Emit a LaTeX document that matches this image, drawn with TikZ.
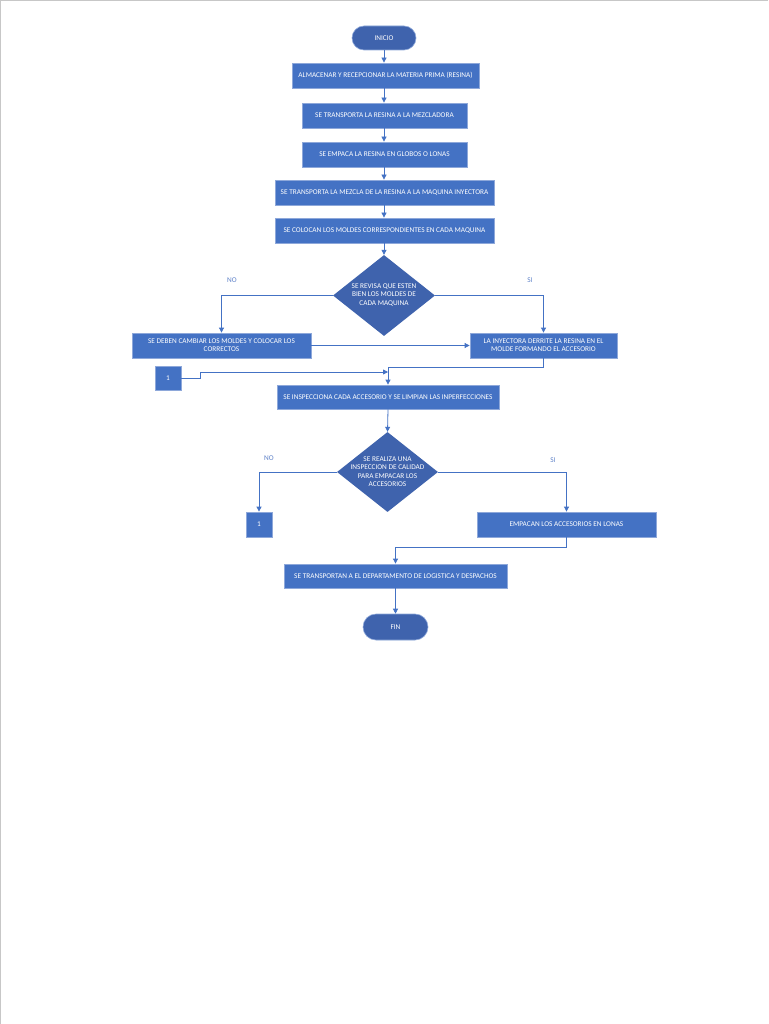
\documentclass[tikz,border=0pt]{standalone}
\usepackage{fontspec}
\setmainfont{Carlito}
\usetikzlibrary{shapes.geometric,arrows.meta}
\definecolor{boxfill}{HTML}{4472C4}
\definecolor{boxedge}{HTML}{8EA8DA}
\definecolor{darkfill}{HTML}{3F63AD}
\definecolor{linecol}{HTML}{4472C4}
\definecolor{lblcol}{HTML}{5F82C9}
\tikzset{
  pbox/.style={draw=boxedge, fill=boxfill, line width=0.8pt, inner sep=0pt, text=white,
     font=\fontsize{7.3}{8.2}\selectfont, align=center},
  term/.style={draw=boxedge, fill=darkfill, line width=0.6pt, rounded corners=12pt, inner sep=0pt,
     text=white, font=\fontsize{7.3}{8.2}\selectfont},
  dia/.style={diamond, draw=none, fill=darkfill, inner sep=0pt},
  dtext/.style={text=white, font=\fontsize{7.3}{8.4}\selectfont, align=center},
  lbl/.style={text=lblcol, font=\fontsize{7.3}{8.2}\selectfont},
  conn/.style={draw=linecol, line width=0.8pt},
  arr/.style={conn, -{Triangle[width=5pt,length=5pt]}},
}
\begin{document}
\begin{tikzpicture}[x=1pt,y=-1pt]
\useasboundingbox (0,0) rectangle (768,1024);
\fill[white] (0,0) rectangle (768,1024);
\draw[black!22, line width=1pt] (0.5,1024) -- (0.5,0.5) -- (768,0.5);

\node[term, minimum width=64pt, minimum height=24pt] (inicio) at (384,38) {INICIO};
\node[pbox, minimum width=187pt, minimum height=25pt] (b1) at (385.5,75.5) {ALMACENAR Y RECEPCIONAR LA MATERIA PRIMA (RESINA)};
\node[pbox, minimum width=165pt, minimum height=25pt] (b2) at (384.5,115.5) {SE TRANSPORTA LA RESINA A LA MEZCLADORA};
\node[pbox, minimum width=165pt, minimum height=25pt] (b3) at (384.5,154.5) {SE EMPACA LA RESINA EN GLOBOS O LONAS};
\node[pbox, minimum width=219pt, minimum height=25pt] (b4) at (384.5,192.5) {SE TRANSPORTA LA MEZCLA DE LA RESINA A LA MAQUINA INYECTORA};
\node[pbox, minimum width=219pt, minimum height=25pt] (b5) at (384.5,230.5) {SE COLOCAN LOS MOLDES CORRESPONDIENTES EN CADA MAQUINA};

\node[dia, minimum width=102pt, minimum height=81pt] (d1) at (384,295.5) {};
\node[dtext] (d1t) at (384,295) {SE REVISA QUE ESTEN\\BIEN LOS MOLDES DE\\CADA MAQUINA};
\node[lbl] (no1) at (232,280.5) {NO};
\node[lbl] (si1) at (530,280.5) {SI};

\node[pbox, minimum width=179pt, minimum height=25pt] (bno) at (221.5,345.5) {SE DEBEN CAMBIAR LOS MOLDES Y COLOCAR LOS\\CORRECTOS};
\node[pbox, minimum width=147pt, minimum height=25pt] (bsi) at (543.5,345.5) {LA INYECTORA DERRITE LA RESINA EN EL\\MOLDE FORMANDO EL ACCESORIO};

\node[pbox, minimum width=26pt, minimum height=24pt] (c1) at (168,378) {1};
\node[pbox, minimum width=222pt, minimum height=24pt] (b6) at (388,397) {SE INSPECCIONA CADA ACCESORIO Y SE LIMPIAN LAS INPERFECCIONES};

\node[dia, minimum width=101pt, minimum height=80pt] (d2) at (387.5,472) {};
\node[dtext] (d2t) at (387.5,471.5) {SE REALIZA UNA\\INSPECCION DE CALIDAD\\PARA EMPACAR LOS\\ACCESORIOS};
\node[lbl] (no2) at (269,458.5) {NO};
\node[lbl] (si2) at (553,460) {SI};

\node[pbox, minimum width=26pt, minimum height=25pt] (c2) at (259,524.5) {1};
\node[pbox, minimum width=179pt, minimum height=25pt] (b7) at (566.5,524.5) {EMPACAN LOS ACCESORIOS EN LONAS};
\node[pbox, minimum width=223pt, minimum height=24pt] (b8) at (395.5,576) {SE TRANSPORTAN A EL DEPARTAMENTO DE LOGISTICA Y DESPACHOS};
\node[term, minimum width=65pt, minimum height=26pt, rounded corners=13pt] (fin) at (395.5,627) {FIN};

\coordinate (m1) at (388,372);

\draw[arr] (inicio.south) -- (inicio.south |- b1.north);
\draw[arr] (inicio.south |- b1.south) -- (inicio.south |- b2.north);
\draw[arr] (inicio.south |- b2.south) -- (inicio.south |- b3.north);
\draw[arr] (inicio.south |- b3.south) -- (inicio.south |- b4.north);
\draw[arr] (inicio.south |- b4.south) -- (inicio.south |- b5.north);
\draw[arr] (inicio.south |- b5.south) -- (d1.north);
\draw[arr] (d1.west) -| (bno.north);
\draw[arr] (d1.east) -| (bsi.north);
\draw[arr] (bno.east) -- (bno.east -| bsi.west);
\draw[arr] (bsi.south) -- ++(0,9) -| (b6.north);
\draw[arr] (c1.east) -- ++(19,0) |- (m1);
\draw[arr] (b6.south) -- (d2.north);
\draw[arr] (d2.west) -| (c2.north);
\draw[arr] (d2.east) -| (b7.north);
\draw[arr] (b7.south) -- ++(0,10) -| (b8.north);
\draw[arr] (b8.south) -- (fin.north);
\end{tikzpicture}
\end{document}
